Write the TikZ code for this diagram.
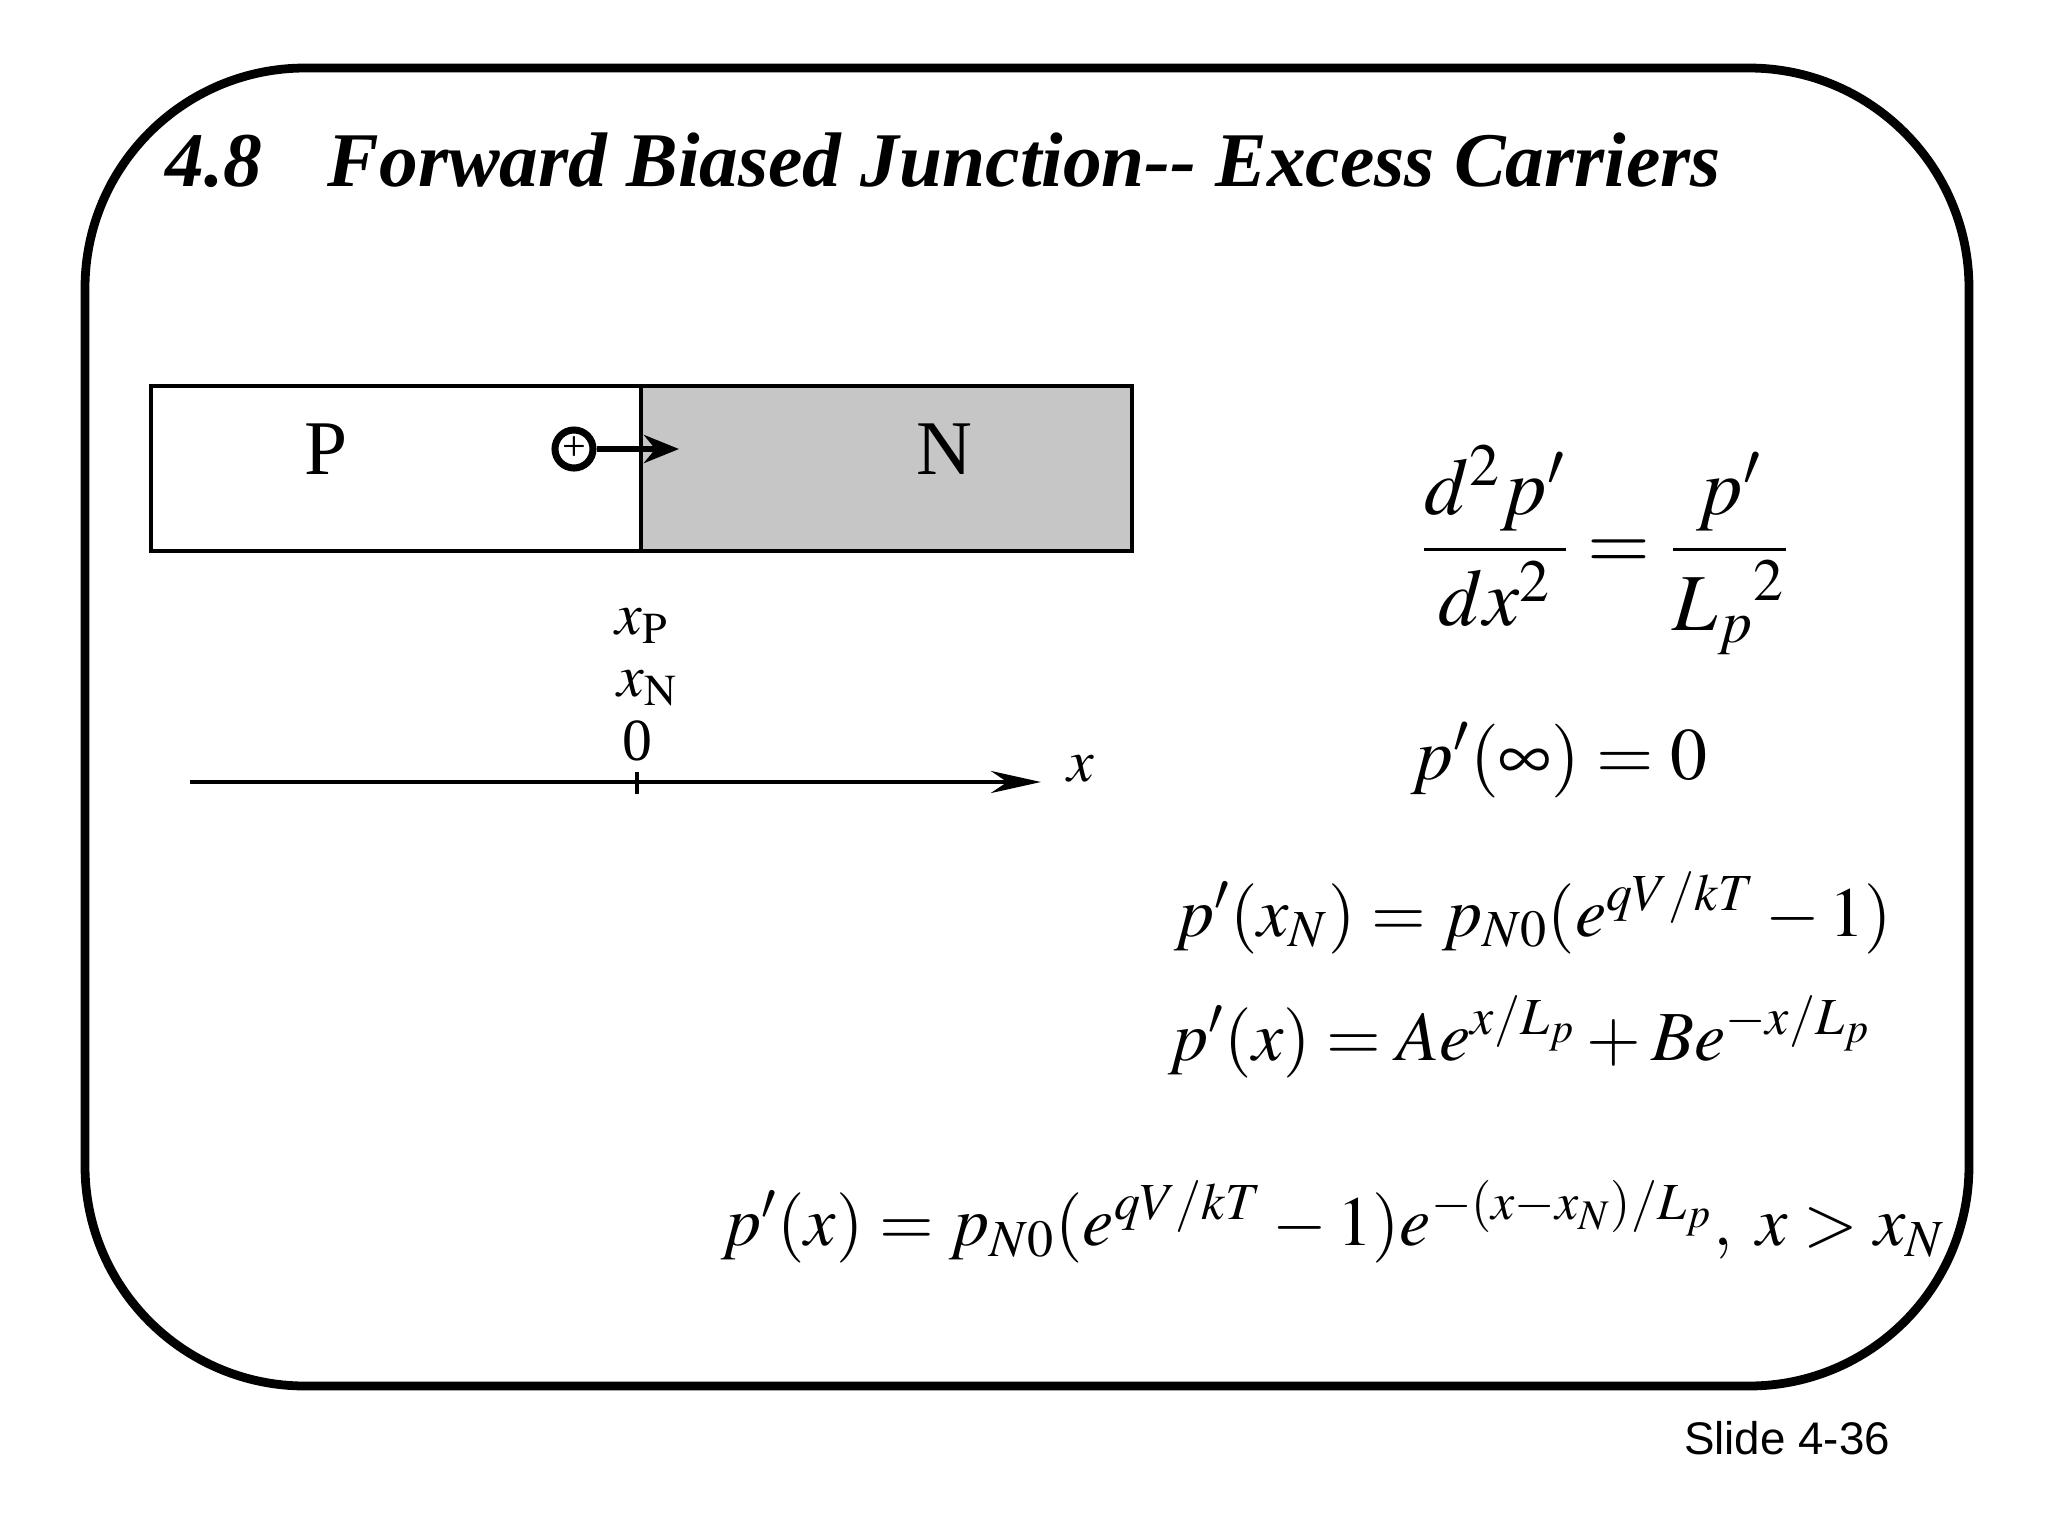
\documentclass[tikz,border=0pt]{standalone}
\usepackage{amsmath}
\usepackage{mathptmx}
\usepackage{fontspec}
\setmainfont{Liberation Serif}
\newfontfamily\sansf{Liberation Sans}
\usetikzlibrary{arrows.meta,patterns}
\begin{document}
\begin{tikzpicture}[x=0.01cm,y=-0.01cm,
  eq/.style={font=\fontsize{20}{24}\selectfont},
  lbl/.style={font=\fontsize{17}{20}\selectfont}]
\useasboundingbox (0,0) rectangle (2048,1536);
\draw[line width=2.5pt,rounded corners=2.2cm] (85,68) rectangle (1969,1386);
\node[anchor=west,font=\fontsize{22}{26}\selectfont\bfseries\itshape] (title) at (153,160) {4.8\hspace{0.6em} Forward Biased Junction-{}- Excess Carriers};
\node[draw,line width=1.2pt,minimum width=4.9cm,minimum height=1.65cm] (pbox) at (396,468.5) {};
\node[draw,line width=1.2pt,fill=gray!45,minimum width=4.91cm,minimum height=1.65cm] (nbox) at (886.5,468.5) {};
\node[lbl,font=\fontsize{22}{24}\selectfont] (P) at (326,449) {P};
\node[lbl,font=\fontsize{22}{24}\selectfont] (N) at (944,449) {N};
\node[draw,circle,line width=2pt,inner sep=0pt,minimum size=0.38cm] (h) at (574,449) {\fontsize{12}{12}\selectfont +};
\coordinate (hend) at (679,449);
\draw[line width=1.6pt,-{Stealth[length=0.35cm,width=0.28cm]}] (h) -- (hend);
\node[lbl] (xp) at (642,626) {$x_{\mathrm P}$};
\node[lbl] (xn) at (648,688) {$x_{\mathrm N}$};
\node[lbl] (zero) at (637,741) {0};
\coordinate (a0) at (190,782);
\coordinate (a1) at (1041,782);
\draw[line width=1.4pt,-{Stealth[length=0.5cm,width=0.22cm]}] (a0) -- (a1);
\draw[line width=1.4pt] (637,772) -- (637,794);
\node[lbl] (xl) at (1081,769) {$x$};
\node[eq,font=\fontsize{23}{28}\selectfont] (e1) at (1605,550) {$\dfrac{d^2p'}{dx^2}=\dfrac{p'}{{L_p}^{2}}$};
\node[eq,font=\fontsize{21}{26}\selectfont] (e2) at (1559,760) {$p'(\infty)=0$};
\node[eq] (e3) at (1533,913) {$p'(x_N)=p_{N0}(e^{qV/kT}-1)$};
\node[eq] (e4) at (1520,1037) {$p'(x)=Ae^{x/L_p}+Be^{-x/L_p}$};
\node[eq] (e5) at (1333,1222) {$p'(x)=p_{N0}(e^{qV/kT}-1)e^{-(x-x_N)/L_p},\; x>x_N$};
\node[font=\sansf\fontsize{13}{16}\selectfont] (slide) at (1787,1438) {Slide 4-36};
\end{tikzpicture}
\end{document}
